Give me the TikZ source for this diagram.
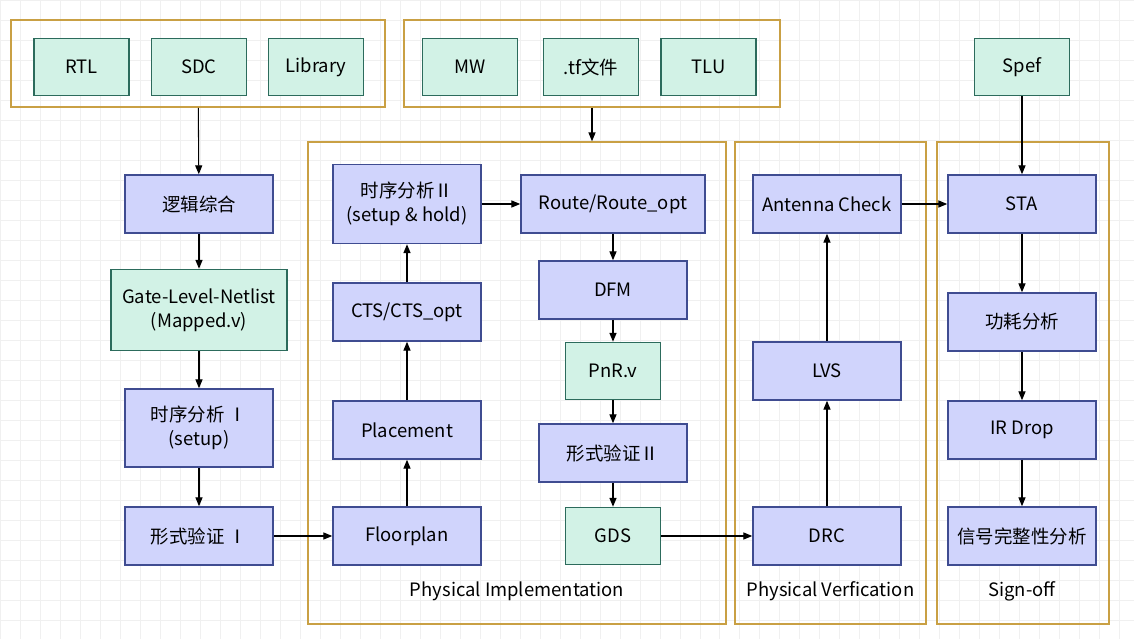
\documentclass[tikz,border=0pt]{standalone}
\usepackage{fontspec}
\setmainfont{Noto Sans CJK SC}
\usetikzlibrary{arrows.meta}
\definecolor{blkfill}{HTML}{D0D4FC}
\definecolor{blkline}{HTML}{3F4C91}
\definecolor{grnfill}{HTML}{D2F2E6}
\definecolor{grnline}{HTML}{2C6B5C}
\definecolor{frameline}{HTML}{C9A044}
\tikzset{
  blk/.style={draw=blkline,fill=blkfill,line width=0.9pt,align=center,font=\fontsize{10.5}{13.5}\selectfont,
    minimum width=2.96cm,minimum height=1.16cm,inner sep=1pt},
  grn/.style={blk,draw=grnline,fill=grnfill},
  sq/.style={minimum width=1.9cm,minimum height=1.14cm},
  frm/.style={draw=frameline,line width=0.9pt},
  lbl/.style={font=\fontsize{10.5}{13.5}\selectfont},
  arr/.style={-{Triangle[length=5pt,width=4pt]},line width=0.6pt}
}
\begin{document}
\begin{tikzpicture}[x=0.02cm,y=-0.02cm]
\useasboundingbox (0,0) rectangle (1134,639);
\fill[white] (0,0) rectangle (1134,639);
\draw[black!6,step=0.4cm] (0,0) grid (1134,639);
% groups
\node[frm,minimum width=7.48cm,minimum height=1.74cm] (g1) at (198,63.5) {};
\node[frm,minimum width=7.52cm,minimum height=1.74cm] (g2) at (592,63.5) {};
\node[frm,minimum width=8.36cm,minimum height=9.64cm] (pi) at (517,383) {};
\node[frm,minimum width=3.82cm,minimum height=9.64cm] (pv) at (830.5,383) {};
\node[frm,minimum width=3.44cm,minimum height=9.64cm] (so) at (1023,383) {};
\node[lbl] at (517,591) {Physical Implementation};
\node[lbl] at (830.5,591) {Physical Verfication};
\node[lbl] at (1022,591) {Sign-off};
% inputs
\node[grn,sq] (rtl) at (81.5,67) {RTL};
\node[grn,sq] (sdc) at (199,67) {SDC};
\node[grn,sq] (lib) at (316,67) {Library};
\node[grn,sq] (mw) at (470,67) {MW};
\node[grn,sq] (tf) at (591,67) {.tf文件};
\node[grn,sq] (tlu) at (708.5,67) {TLU};
\node[grn,sq] (spef) at (1022,67) {Spef};
% front end
\node[blk] (syn) at (199,204) {逻辑综合};
\node[grn,minimum width=3.52cm,minimum height=1.62cm] (net) at (199,310) {Gate-Level-Netlist\\(Mapped.v)};
\node[blk,minimum height=1.56cm] (sta1) at (199,428) {时序分析 Ⅰ\\(setup)};
\node[blk] (fv1) at (199,536) {形式验证 Ⅰ};
% physical implementation
\node[blk,minimum height=1.58cm] (sta2) at (407,204) {时序分析Ⅱ\\(setup \& hold)};
\node[blk] (cts) at (407,312) {CTS/CTS\_opt};
\node[blk] (place) at (407,430) {Placement};
\node[blk] (fp) at (407,536) {Floorplan};
\node[blk,minimum width=3.68cm] (route) at (613,204) {Route/Route\_opt};
\node[blk] (dfm) at (613,290) {DFM};
\node[grn,sq] (pnr) at (613,371) {PnR.v};
\node[blk] (fv2) at (613,453) {形式验证Ⅱ};
\node[grn,sq] (gds) at (613,536) {GDS};
% physical verification
\node[blk] (ant) at (827,204) {Antenna Check};
\node[blk] (lvs) at (827,371) {LVS};
\node[blk] (drc) at (827,536) {DRC};
% sign-off
\node[blk] (sta) at (1022,204) {STA};
\node[blk] (pwr) at (1022,322) {功耗分析};
\node[blk] (ir) at (1022,430) {IR Drop};
\node[blk] (si) at (1022,536) {信号完整性分析};
% flow
\draw[arr] (g1) -- (syn);
\draw[arr] (g2.south) -- (g2.south |- pi.north);
\draw[arr] (spef) -- (sta);
\draw[arr] (syn) -- (net);
\draw[arr] (net) -- (sta1);
\draw[arr] (sta1) -- (fv1);
\draw[arr] (fv1) -- (fp);
\draw[arr] (fp) -- (place);
\draw[arr] (place) -- (cts);
\draw[arr] (cts) -- (sta2);
\draw[arr] (sta2) -- (route);
\draw[arr] (route) -- (dfm);
\draw[arr] (dfm) -- (pnr);
\draw[arr] (pnr) -- (fv2);
\draw[arr] (fv2) -- (gds);
\draw[arr] (gds) -- (drc);
\draw[arr] (drc) -- (lvs);
\draw[arr] (lvs) -- (ant);
\draw[arr] (ant) -- (sta);
\draw[arr] (sta) -- (pwr);
\draw[arr] (pwr) -- (ir);
\draw[arr] (ir) -- (si);
\end{tikzpicture}
\end{document}
